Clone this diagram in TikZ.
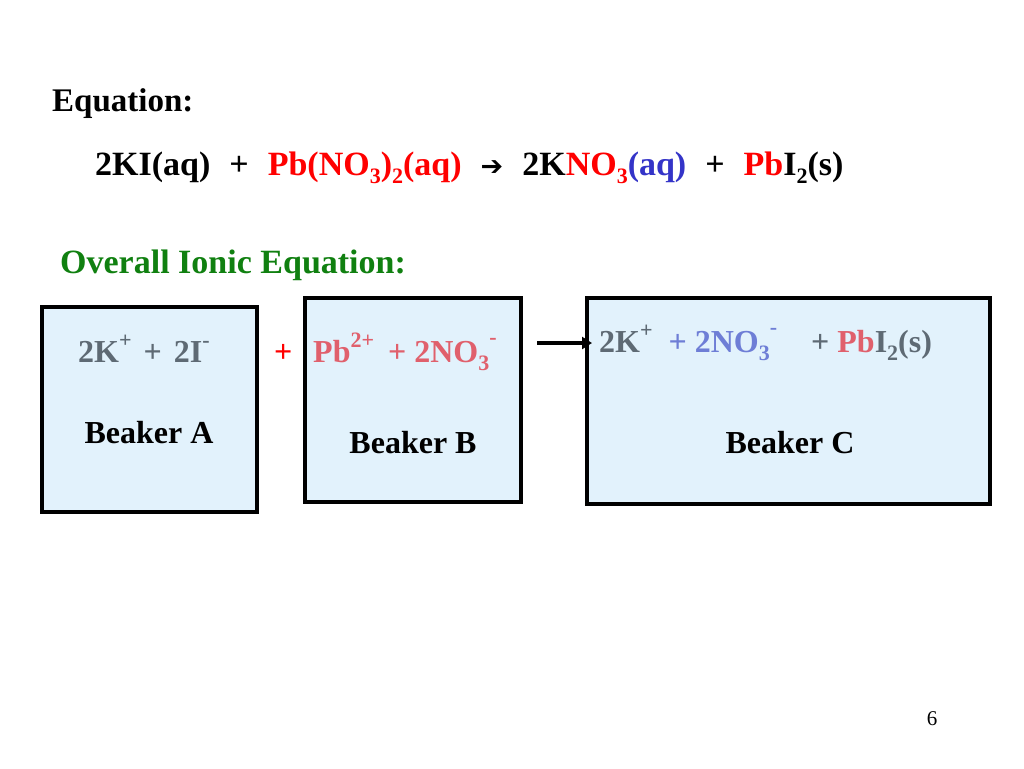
\documentclass[tikz,border=0pt]{standalone}
\usepackage{fontspec}
\setmainfont{Liberation Serif}
\newfontfamily\dejavu{DejaVu Sans}
\usetikzlibrary{arrows.meta}
\definecolor{ggray}{HTML}{5E6A74}
\definecolor{gpink}{HTML}{E0606C}
\definecolor{gblue}{HTML}{6E7ED6}
\definecolor{eqblue}{HTML}{3434C8}
\definecolor{eqgreen}{HTML}{108010}
\definecolor{boxfill}{HTML}{E2F2FC}
\newcommand{\sbx}[1]{\raisebox{-0.25em}{\fontsize{22}{24}\selectfont #1}}
\newcommand{\spx}[1]{\raisebox{0.45em}{\fontsize{22}{24}\selectfont #1}}
\newcommand{\gp}{\hspace{19pt}}
\tikzset{
  beaker/.style={draw=black,line width=3.5pt,fill=boxfill},
  txt/.style={anchor=base west,inner sep=0pt,font=\fontsize{32}{36}\selectfont\bfseries},
  lbl/.style={anchor=base,inner sep=0pt,font=\fontsize{32}{36}\selectfont\bfseries}
}
\begin{document}
\begin{tikzpicture}[x=1pt,y=-1pt]
\useasboundingbox (0,0) rectangle (1024,768);
\fill[white] (0,0) rectangle (1024,768);
\node[txt,font=\fontsize{33}{36}\selectfont\bfseries] (t1) at (52,111) {Equation:};
\node[txt,font=\fontsize{34}{36}\selectfont\bfseries] (eq) at (95,175) {2KI(aq)\gp+\gp\textcolor{red}{Pb(NO\sbx{3})\sbx{2}(aq)}\gp{\dejavu\mdseries\fontsize{27}{30}\selectfont ➔}\gp2K\textcolor{red}{NO\sbx{3}}\textcolor{eqblue}{(aq)}\gp+\gp\textcolor{red}{Pb}I\sbx{2}(s)};
\node[txt,text=eqgreen,font=\fontsize{34}{36}\selectfont\bfseries] (t2) at (60,273) {Overall Ionic Equation:};
\draw[beaker] (42,307) rectangle (257,512);
\draw[beaker] (305,298) rectangle (521,502);
\draw[beaker] (587,298) rectangle (990,504);
\node[txt,text=ggray] (a) at (78,362) {2K\spx{+}\hspace{12pt}+\hspace{12pt}2I\spx{-}};
\node[lbl] (la) at (149,443) {Beaker A};
\node[txt,text=red] (p) at (274,362) {+};
\node[txt,text=gpink] (b) at (313,362) {Pb\spx{2+}\hspace{14pt}+ 2NO\sbx{3}\raisebox{0.55em}{\fontsize{22}{24}\selectfont -}};
\node[lbl] (lb) at (413,453) {Beaker B};
\coordinate (as) at (537,343);
\coordinate (ae) at (592,343);
\draw[line width=3.5pt,-{Triangle[length=10pt,width=12pt]}] (as) -- (ae);
\node[txt,text=ggray] (c) at (599,352) {2K\spx{+}\hspace{16pt}\textcolor{gblue}{+ 2NO\sbx{3}\raisebox{0.55em}{\fontsize{22}{24}\selectfont -}}\hspace{34pt}+ \textcolor{gpink}{Pb}I\sbx{2}(s)};
\node[lbl] (lc) at (790,453) {Beaker C};
\node[anchor=base,inner sep=0pt,font=\fontsize{21}{24}\selectfont] (pg) at (932,725) {6};
\end{tikzpicture}
\end{document}
